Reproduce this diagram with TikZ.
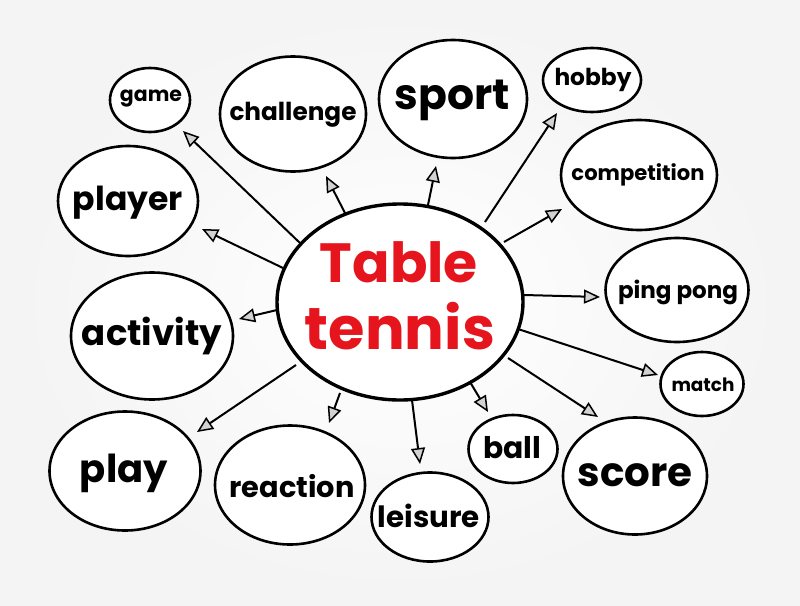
\documentclass[tikz,border=0pt]{standalone}
\usepackage{fontspec}
\usepackage{graphicx}
\setmainfont{Poppins}
\usetikzlibrary{shapes.geometric,arrows.meta}
\newcommand{\fitw}[2]{\resizebox{#1pt}{!}{\bfseries #2}}
\definecolor{ttred}{RGB}{230,20,28}
\tikzset{
  bub/.style={draw=black, line width=2.6pt, ellipse, fill=white, inner sep=0pt, text=black},
  hub/.style={draw=black, line width=3.4pt, ellipse, fill=white, inner sep=0pt},
  word/.style={inner sep=0pt, text=black},
  hubword/.style={inner sep=0pt, text=ttred},
  arr/.style={draw=black, line width=2pt, -{Triangle[length=16pt,width=14pt,fill=gray!35,line width=1.5pt]}}
}
\begin{document}
\begin{tikzpicture}[x=1pt,y=-1pt]
\useasboundingbox (0,0) rectangle (800,605);
\shade[inner color=white, outer color=gray!9] (0,0) rectangle (800,605);

% arrow tips
\coordinate (tgame) at (183,131);
\coordinate (tchal) at (326,176);
\coordinate (tsport) at (436,166);
\coordinate (thobby) at (557,113);
\coordinate (tcomp) at (562,209);
\coordinate (tping) at (600,297);
\coordinate (tmatch) at (658,375);
\coordinate (tscore) at (598,417);
\coordinate (tball) at (488,412);
\coordinate (tleis) at (420,464);
\coordinate (treac) at (329,423);
\coordinate (tplay) at (197,432);
\coordinate (tact) at (239,319);
\coordinate (tplayer) at (202,229);

% start points on hub
\coordinate (sgame) at (300,243);
\coordinate (schal) at (345,213);
\coordinate (ssport) at (428,205);
\coordinate (shobby) at (485,222);
\coordinate (scomp) at (504,242);
\coordinate (sping) at (524,295);
\coordinate (smatch) at (518,329);
\coordinate (sscore) at (508,358);
\coordinate (sball) at (470,382);
\coordinate (sleis) at (412,400);
\coordinate (sreac) at (340,393);
\coordinate (splay) at (296,365);
\coordinate (sact) at (277,310);
\coordinate (splayer) at (283,268);

\foreach \n in {game,chal,sport,hobby,comp,ping,match,score,ball,leis,reac,play,act,player}
  \draw[arr] (s\n) -- (t\n);

\node[hub, minimum width=246pt, minimum height=196pt] (c) at (400,302) {};
\node[hubword] (ctable) at (399,262) {\fitw{158}{Table}};
\node[hubword] (ctennis) at (400,326) {\fitw{190}{tennis}};

\node[bub, minimum width=80pt, minimum height=64pt] (game) at (150,100) {};
\node[bub, minimum width=146pt, minimum height=115pt] (chal) at (293,114) {};
\node[bub, minimum width=148pt, minimum height=118pt] (sport) at (453,99) {};
\node[bub, minimum width=98pt, minimum height=64pt] (hobby) at (592,80) {};
\node[bub, minimum width=156pt, minimum height=110pt] (comp) at (639,175) {};
\node[bub, minimum width=143pt, minimum height=104pt] (ping) at (677,290) {};
\node[bub, minimum width=83pt, minimum height=64pt] (match) at (702,384) {};
\node[bub, minimum width=144pt, minimum height=117pt] (score) at (635,476) {};
\node[bub, minimum width=89pt, minimum height=68pt] (ball) at (513,449) {};
\node[bub, minimum width=117pt, minimum height=89pt] (leis) at (430,517) {};
\node[bub, minimum width=150pt, minimum height=119pt] (reac) at (290,485) {};
\node[bub, minimum width=151pt, minimum height=119pt] (play) at (125,471) {};
\node[bub, minimum width=162pt, minimum height=127pt] (act) at (152,336) {};
\node[bub, minimum width=140pt, minimum height=110pt] (player) at (128,201) {};

\node[word] (wgame) at (151,99) {\fitw{62}{game}};
\node[word] (wchal) at (293,115) {\fitw{127}{challenge}};
\node[word] (wsport) at (452,100) {\fitw{115}{sport}};
\node[word] (whobby) at (593,80) {\fitw{77}{hobby}};
\node[word] (wcomp) at (638,175) {\fitw{133}{competition}};
\node[word] (wping) at (678,292) {\fitw{120}{ping pong}};
\node[word] (wmatch) at (703,385) {\fitw{63}{match}};
\node[word] (wscore) at (635,475) {\fitw{115}{score}};
\node[word] (wball) at (512,448) {\fitw{58}{ball}};
\node[word] (wleis) at (429,516) {\fitw{102}{leisure}};
\node[word] (wreac) at (292,486) {\fitw{125}{reaction}};
\node[word] (wplay) at (124,473) {\fitw{88}{play}};
\node[word] (wact) at (152,336) {\fitw{140}{activity}};
\node[word] (wplayer) at (128,203) {\fitw{110}{player}};
\end{tikzpicture}
\end{document}
